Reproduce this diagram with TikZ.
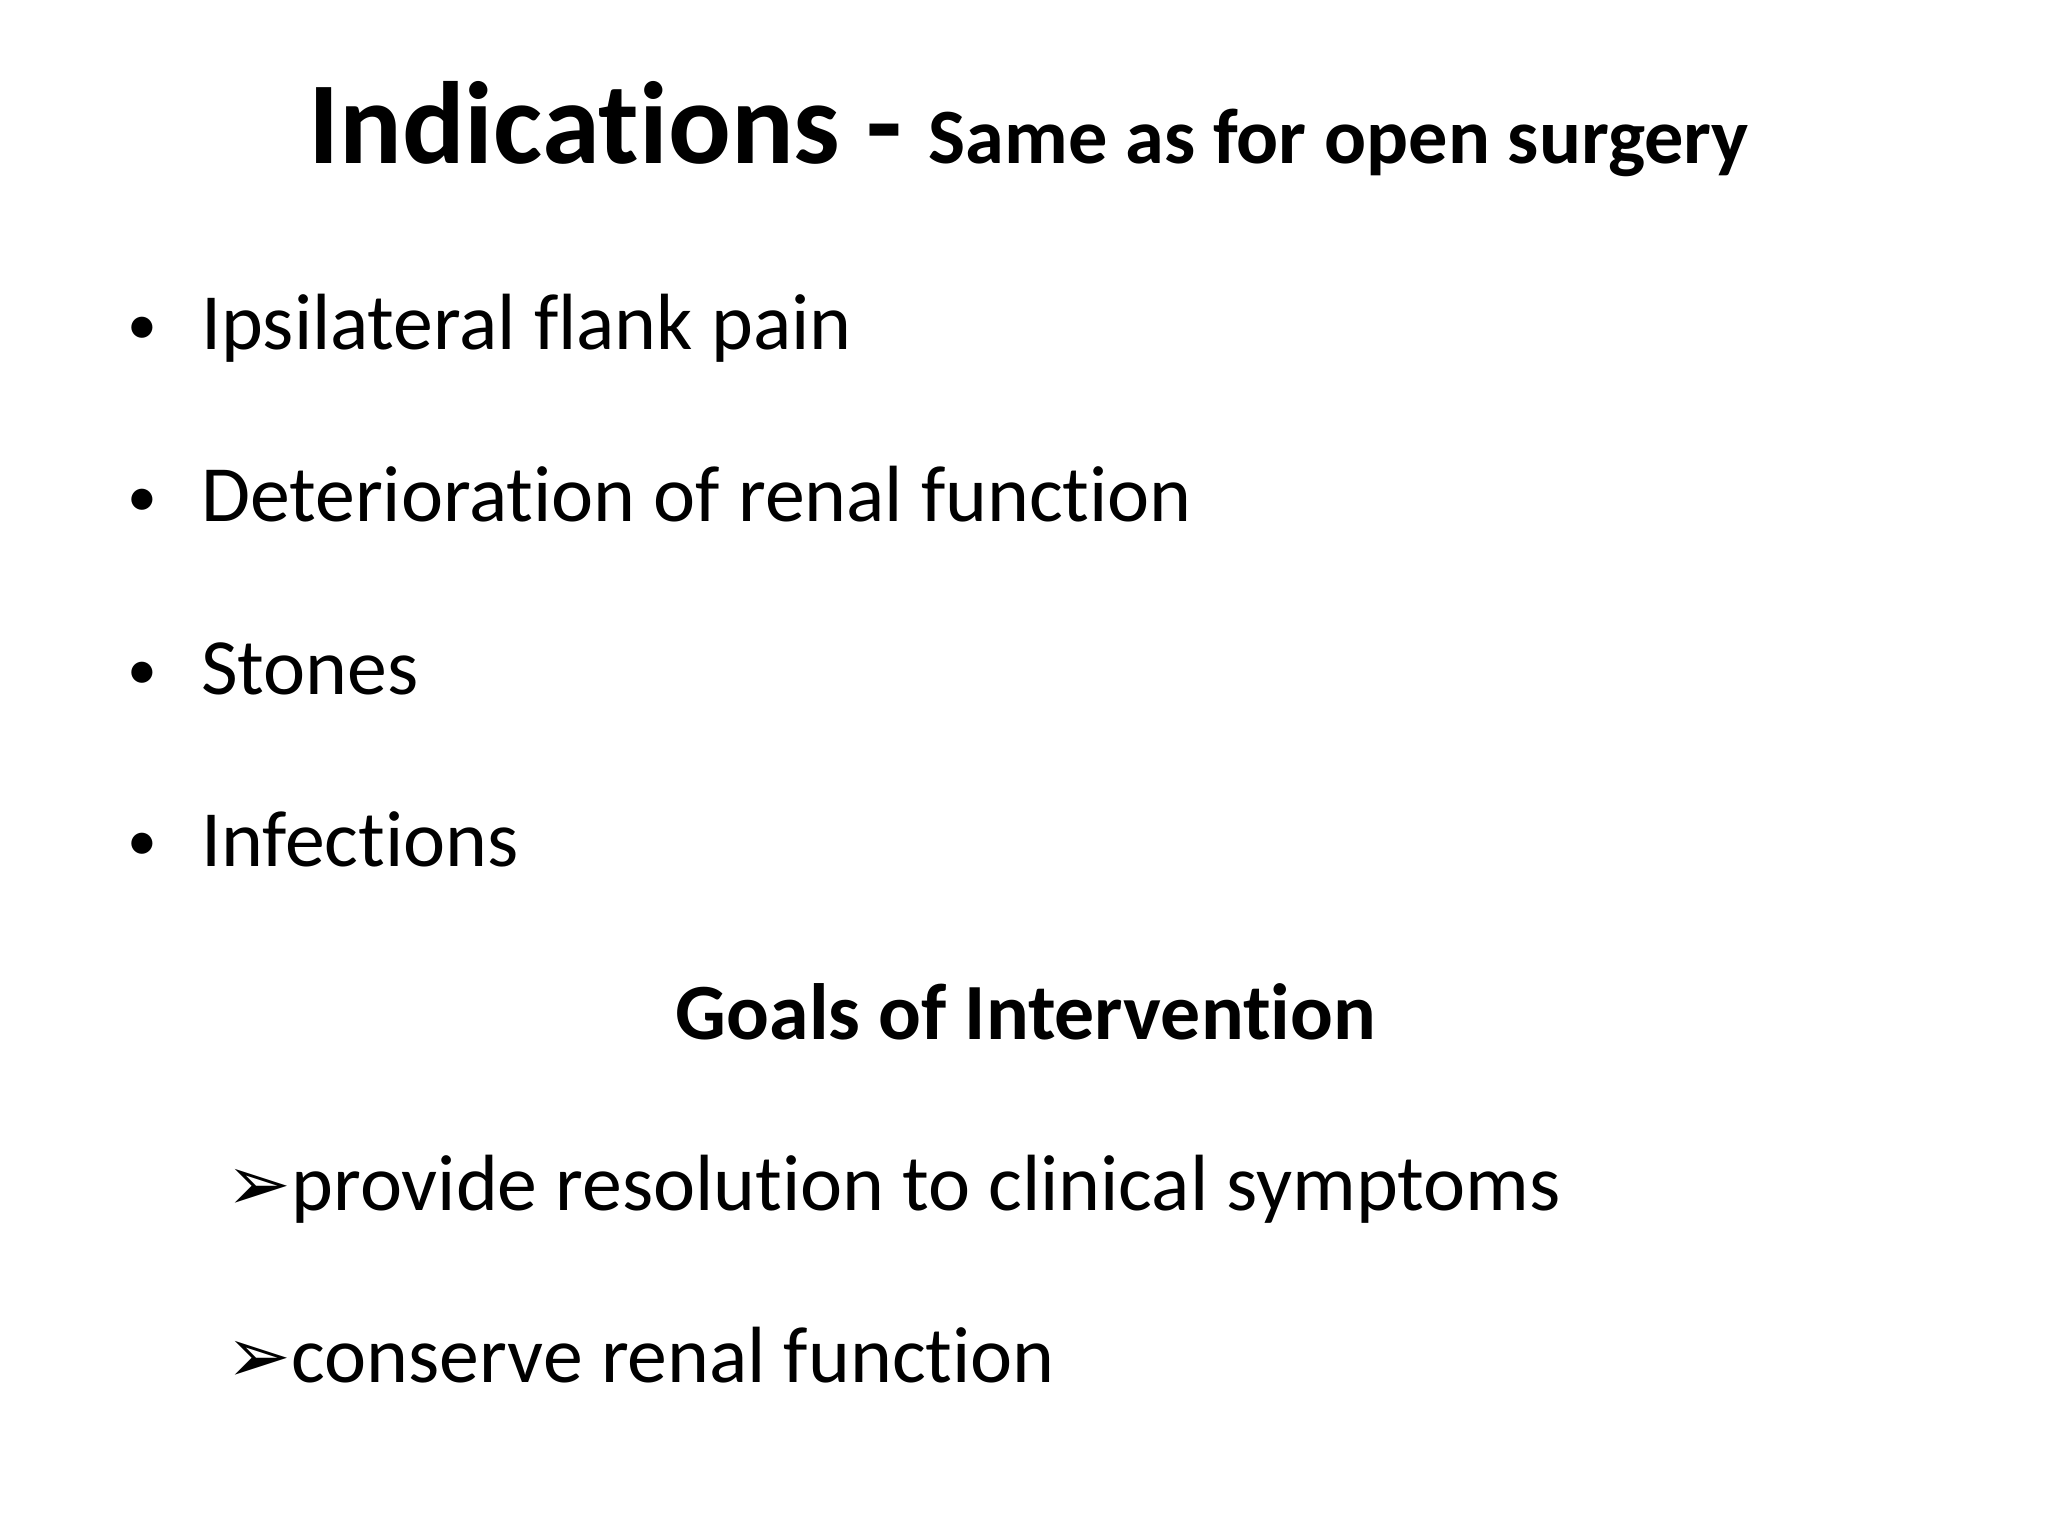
\documentclass[tikz,border=0pt]{standalone}
\usepackage{fontspec}
\setmainfont[Ligatures={NoCommon}]{Carlito}
\newfontfamily\symfont{DejaVu Sans}
\usetikzlibrary{positioning}
\tikzset{
  itemtext/.style={anchor=base west, inner sep=0pt, font=\fontsize{22.7}{26}\selectfont},
  bulletmark/.style={anchor=base west, inner sep=0pt, font=\fontsize{17}{20}\selectfont},
}
\begin{document}
\begin{tikzpicture}[x=0.0131cm,y=-0.0131cm]
\useasboundingbox[fill=white] (0,0) rectangle (1563,1172);
% Title
\node[anchor=base, inner sep=0pt] (title) at (785,125)
  {\fontsize{33.3}{38}\selectfont\bfseries Indications - {\fontsize{22.3}{26}\selectfont Same as for open surgery}};
% Indications list
\foreach \y/\txt [count=\i] in {267/Ipsilateral flank pain, 398/Deterioration of renal function, 530/Stones, 661/Infections}{
  \node[bulletmark] (bul\i) at (97,\y-4) {•};
  \node[itemtext] (ind\i) at (153,\y) {\txt};
}
% Goals
\node[anchor=base, inner sep=0pt, font=\fontsize{22.7}{26}\selectfont\bfseries] (goals) at (783,793) {Goals of Intervention};
\foreach \y/\txt [count=\i] in {924/provide resolution to clinical symptoms, 1055/conserve renal function}{
  \node[bulletmark, font=\fontsize{22}{26}\symfont] (arr\i) at (172,\y) {➢};
  \node[itemtext] (goal\i) at (222,\y) {\txt};
}
\end{tikzpicture}
\end{document}
